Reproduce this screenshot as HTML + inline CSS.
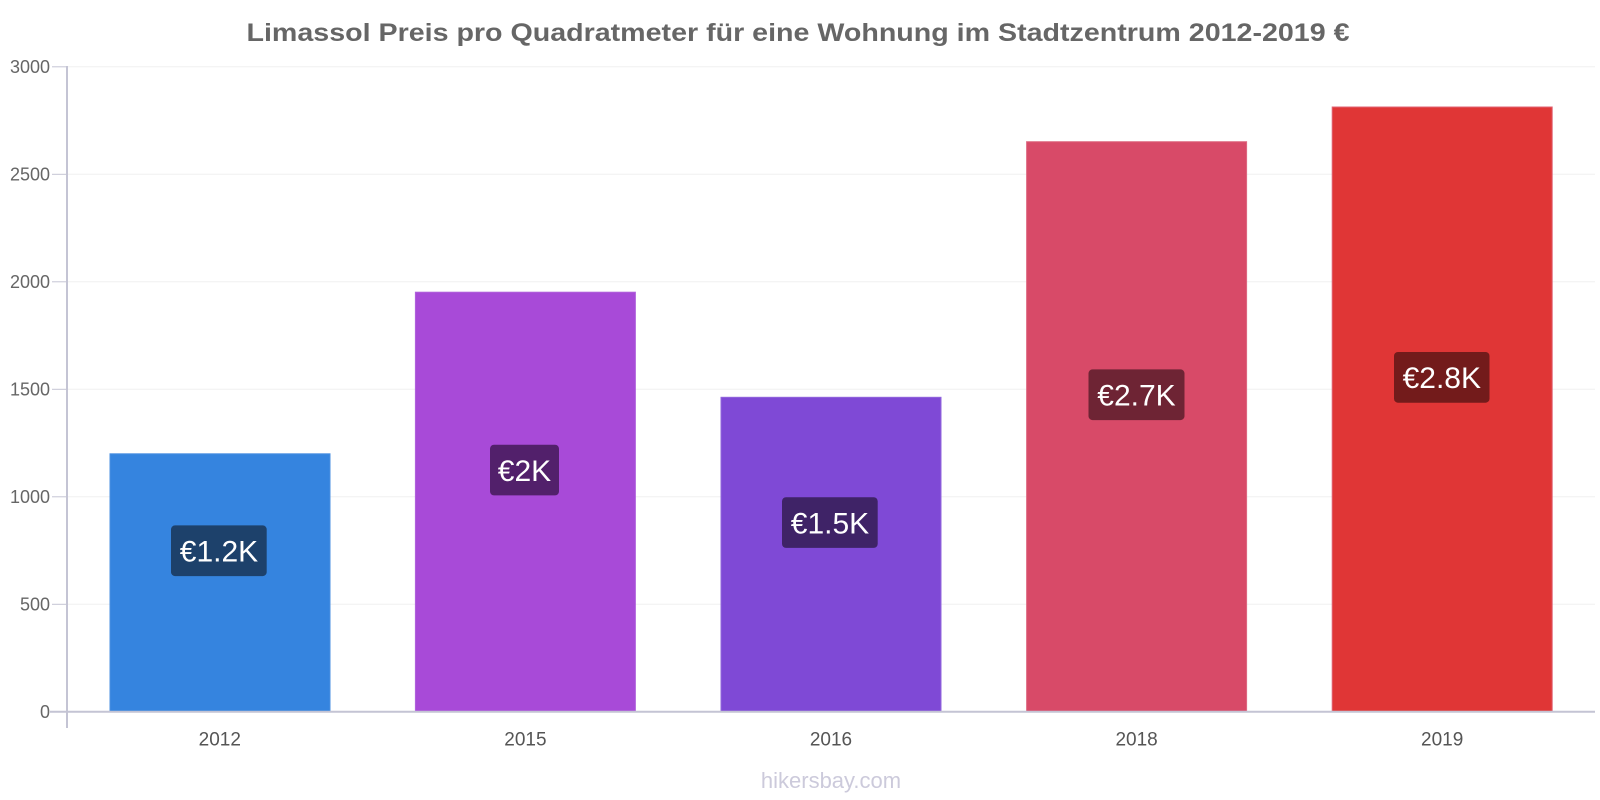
<!DOCTYPE html>
<html>
<head>
<meta charset="utf-8">
<style>
  html, body { margin: 0; padding: 0; background: #ffffff; }
  svg { display: block; }
  text { font-family: "Liberation Sans", "DejaVu Sans", sans-serif; }
</style>
</head>
<body>
<svg width="1600" height="800" viewBox="0 0 1600 800" xmlns="http://www.w3.org/2000/svg">
  <rect x="0" y="0" width="1600" height="800" fill="#ffffff"/>

  <!-- Title -->
  <text x="798" y="41" text-anchor="middle" font-size="25" font-weight="bold" fill="#666666" textLength="1103" lengthAdjust="spacingAndGlyphs">Limassol Preis pro Quadratmeter für eine Wohnung im Stadtzentrum 2012-2019 €</text>

  <!-- Gridlines -->
  <g stroke="#f0f0f0" stroke-width="1">
    <line x1="67" y1="66.8" x2="1595" y2="66.8"/>
    <line x1="67" y1="174.3" x2="1595" y2="174.3"/>
    <line x1="67" y1="281.8" x2="1595" y2="281.8"/>
    <line x1="67" y1="389.3" x2="1595" y2="389.3"/>
    <line x1="67" y1="496.8" x2="1595" y2="496.8"/>
    <line x1="67" y1="604.3" x2="1595" y2="604.3"/>
  </g>

  <!-- Y tick labels -->
  <g font-size="18" fill="#666666" text-anchor="end">
    <text x="50" y="73">3000</text>
    <text x="50" y="180.5">2500</text>
    <text x="50" y="288">2000</text>
    <text x="50" y="395.5">1500</text>
    <text x="50" y="503">1000</text>
    <text x="50" y="610.5">500</text>
    <text x="50" y="718">0</text>
  </g>

  <!-- Y tick marks -->
  <g stroke="#c4c4d4" stroke-width="1">
    <line x1="52" y1="66.8" x2="67" y2="66.8"/>
    <line x1="52" y1="174.3" x2="67" y2="174.3"/>
    <line x1="52" y1="281.8" x2="67" y2="281.8"/>
    <line x1="52" y1="389.3" x2="67" y2="389.3"/>
    <line x1="52" y1="496.8" x2="67" y2="496.8"/>
    <line x1="52" y1="604.3" x2="67" y2="604.3"/>
  </g>

  <!-- Bars -->
  <rect x="110" y="453.8" width="220" height="258" fill="#3584df" stroke="#4a8fe0" stroke-width="1"/>
  <rect x="415.4" y="292.2" width="220" height="419.6" fill="#a84ad8" stroke="#b062dc" stroke-width="1"/>
  <rect x="721" y="397.3" width="220" height="314.5" fill="#7f49d6" stroke="#9266dc" stroke-width="1"/>
  <rect x="1026.6" y="141.7" width="220" height="570.1" fill="#d84a68" stroke="#de6a82" stroke-width="1"/>
  <rect x="1332.2" y="107" width="220" height="604.8" fill="#e03636" stroke="#e06474" stroke-width="1"/>

  <!-- Axes -->
  <line x1="67" y1="66" x2="67" y2="728" stroke="#c4c4d4" stroke-width="2"/>
  <line x1="50" y1="711.8" x2="1595" y2="711.8" stroke="#c4c4d4" stroke-width="2"/>

  <!-- Value labels -->
  <g font-size="30" fill="#ffffff" text-anchor="middle">
    <rect x="171" y="525.4" width="95.7" height="50.7" rx="4" fill="#1d416b"/>
    <text x="219" y="561.5">€1.2K</text>

    <rect x="490" y="444.7" width="69" height="50.7" rx="4" fill="#52206b"/>
    <text x="524.5" y="480.8">€2K</text>

    <rect x="782" y="497.2" width="95.7" height="50.7" rx="4" fill="#3f2367"/>
    <text x="830" y="533.3">€1.5K</text>

    <rect x="1088.5" y="369.4" width="96" height="50.7" rx="4" fill="#6e2434"/>
    <text x="1136.5" y="405.5">€2.7K</text>

    <rect x="1394" y="352" width="95.5" height="50.7" rx="4" fill="#731b1b"/>
    <text x="1441.8" y="388.1">€2.8K</text>
  </g>

  <!-- X labels -->
  <g font-size="19" fill="#555555" text-anchor="middle">
    <text x="219.8" y="745.7">2012</text>
    <text x="525.4" y="745.7">2015</text>
    <text x="831" y="745.7">2016</text>
    <text x="1136.6" y="745.7">2018</text>
    <text x="1442.2" y="745.7">2019</text>
  </g>

  <!-- Footer -->
  <text x="831" y="788" text-anchor="middle" font-size="22" fill="#cccadb">hikersbay.com</text>
</svg>
</body>
</html>
